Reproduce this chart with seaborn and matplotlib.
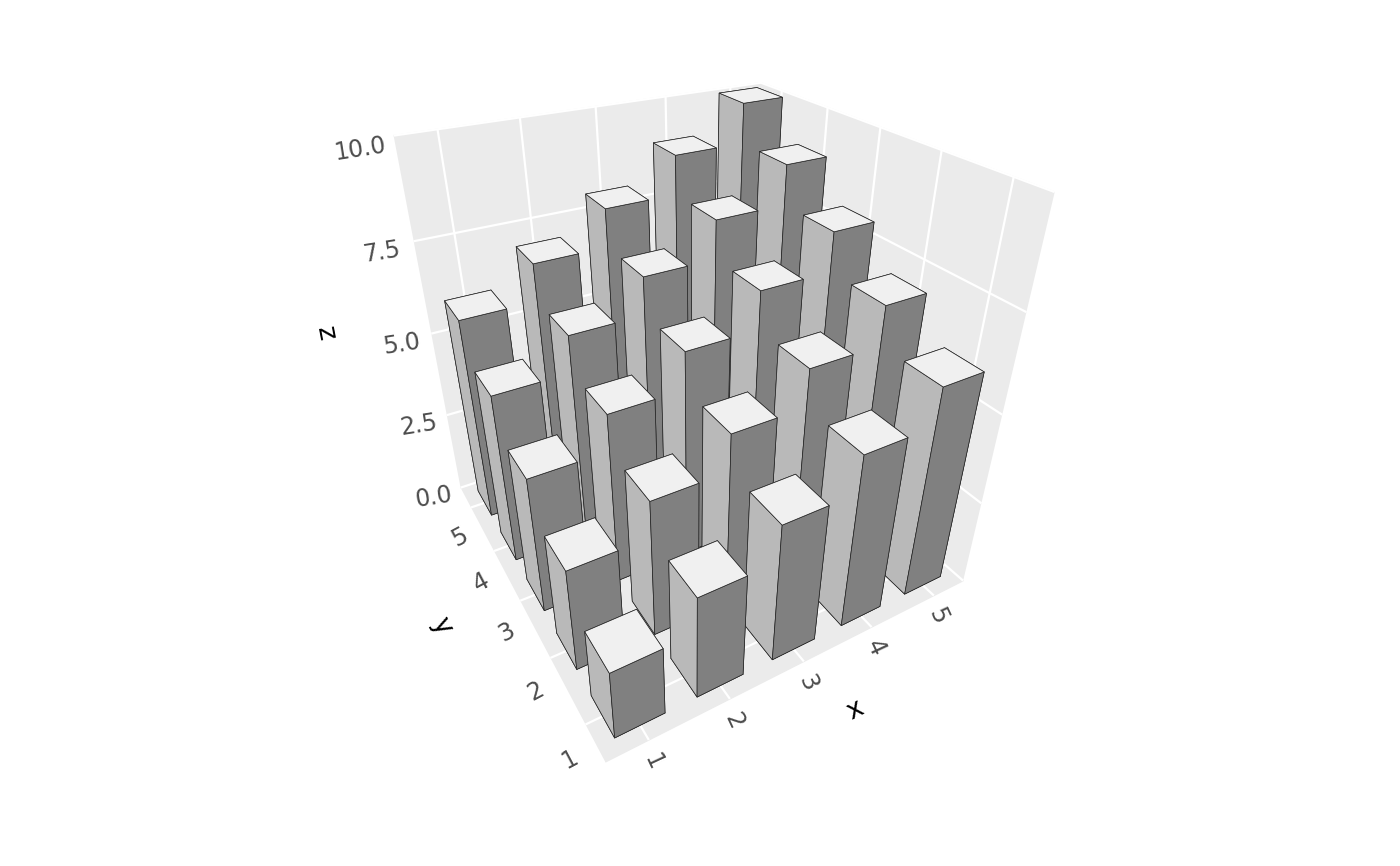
import numpy as np
import matplotlib
matplotlib.use("Agg")
import matplotlib.pyplot as plt
import seaborn as sns
from mpl_toolkits.mplot3d import proj3d

# grid of bar positions and heights (z = x + y)
xs = [1, 2, 3, 4, 5]
ys = [1, 2, 3, 4, 5]
heights = [
    [2, 3, 4, 5, 6],    # y = 1, x = 1..5
    [3, 4, 5, 6, 7],    # y = 2
    [4, 5, 6, 7, 8],    # y = 3
    [5, 6, 7, 8, 9],    # y = 4
    [6, 7, 8, 9, 10],   # y = 5
]
z_ticks = [0.0, 2.5, 5.0, 7.5, 10.0]

sns.set_theme(style="white")
plt.rcParams["font.family"] = ["DejaVu Sans"]

bar_w = 0.6
# face order in bar3d: bottom, top, -y, +y, -x, +x
face_cols = ["#808080", "#f0f0f0", "#808080", "#808080", "#b9b9b9", "#b9b9b9"]

X, Y = np.meshgrid(xs, ys)
Z = np.array(heights, dtype=float)
bx = X.ravel() - bar_w / 2
by = Y.ravel() - bar_w / 2
bz = Z.ravel()

fig = plt.figure(figsize=(14, 8.66), dpi=100)
ax = fig.add_axes([-0.012, 0.058, 1.0, 1.0], projection="3d")
ax.set_proj_type("persp", focal_length=0.18)
ax.view_init(elev=32, azim=-120)
ax.set_box_aspect((1, 1, 1.03), zoom=0.815)

ax.bar3d(bx, by, np.zeros_like(bz), bar_w, bar_w, bz,
         color=face_cols * len(bz), shade=False,
         edgecolor="#222222", linewidth=0.5)

ax.set_xlim(0.5, 5.5)
ax.set_ylim(0.5, 5.5)
ax.set_zlim(0, 10)
ax.set_xticks(xs)
ax.set_yticks(ys)
ax.set_zticks(z_ticks)

for axis in (ax.xaxis, ax.yaxis, ax.zaxis):
    axis.set_pane_color("#ebebeb")
    axis.pane.set_edgecolor("#ebebeb")
    axis.line.set_color((1, 1, 1, 0))
    axis._axinfo["tick"]["inward_factor"] = 0.0
    axis._axinfo["tick"]["outward_factor"] = 0.0
    axis._axinfo["grid"]["color"] = "white"
    axis._axinfo["grid"]["linewidth"] = 1.6

ax.tick_params(axis="x", labelrotation=-65, labelsize=17, colors="#4d4d4d", pad=-3)
ax.tick_params(axis="y", labelrotation=28, labelsize=17, colors="#4d4d4d", pad=5)
ax.tick_params(axis="z", labelrotation=9, labelsize=17, colors="#4d4d4d", pad=12)
ax.set_xlabel("")
ax.set_ylabel("")
ax.set_zlabel("")

fig.canvas.draw()
M = ax.get_proj()


def to_fig(x, y, z):
    xp, yp, _ = proj3d.proj_transform(x, y, z, M)
    disp = ax.transData.transform((xp, yp))
    return fig.transFigure.inverted().transform(disp)


def axis_angle(p0, p1):
    a = to_fig(*p0)
    b = to_fig(*p1)
    d = (b - a) * np.array([fig.get_figwidth(), fig.get_figheight()])
    ang = np.degrees(np.arctan2(d[1], d[0]))
    ang = (ang + 180) % 180
    return ang - 180 if ang > 90 else ang


lab_kw = dict(fontsize=19, color="black", ha="center", va="center")
pos = to_fig(3.1, -0.3, 0)
fig.text(pos[0], pos[1], "x", rotation=axis_angle((1, 0.5, 0), (5, 0.5, 0)), **lab_kw)
pos = to_fig(-0.45, 3.1, 0)
fig.text(pos[0], pos[1], "y", rotation=axis_angle((0.5, 1, 0), (0.5, 5, 0)), **lab_kw)
pos = to_fig(-0.7, 6.0, 5.2)
fig.text(pos[0], pos[1], "z", rotation=axis_angle((0.5, 5.5, 0), (0.5, 5.5, 10)), **lab_kw)

fig.savefig("out.png", dpi=100)
